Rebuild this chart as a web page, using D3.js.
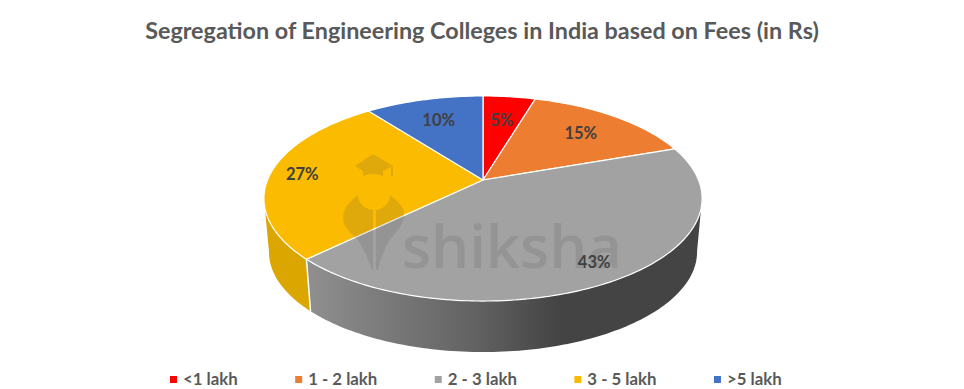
<!DOCTYPE html>
<html>
<head>
<meta charset="utf-8">
<script src="https://cdn.jsdelivr.net/npm/d3@7"></script>
<style>
  html, body { margin: 0; padding: 0; background: #fff; }
  text { font-family: Lato, "Open Sans", sans-serif; }
</style>
</head>
<body>
<svg id="chart" width="964" height="389"></svg>
<script>
// shares, the labels print them rounded
const categories = ["<1 lakh", "1 - 2 lakh", "2 - 3 lakh", "3 - 5 lakh", ">5 lakh"]
const shares = [4.6, 15, 43.1, 26.9, 10.4]
const sliceColors = ["#ff0000", "#ed7d31", "#a2a2a2", "#fbbb00", "#4472c4"]
const wallColors = [
    ["#c00000", "#c00000"],
    ["#b85f24", "#b85f24"],
    ["#909090", "#626262", "#444444", "#444444"],
    ["#dba600", "#d6a300"],
    ["#335593", "#335593"]
]
const labelRadius = [0.68, 0.72, 0.85, 0.85, 0.72]

const svg = d3.select("#chart")
const persp = 0.1805      // how much nearer the front of the disc looks
const bottomScale = 0.977 // lower rim is a little narrower
const x = d3.scaleLinear([-1, 1], [483 - 215.5, 483 + 215.5])
const yTop = d3.scaleLinear([-1, 1], [279.2, 80.8])
const yBottom = d3.scaleLinear([-1, 1], [233.8 + 99.2 * bottomScale, 233.8 - 99.2 * bottomScale])
const xBottom = d3.scaleLinear([-1, 1], [483 - 215.5 * bottomScale, 483 + 215.5 * bottomScale])

function project(angle, r, xs, ys){
    const u = r * Math.sin(angle)
    const v = r * Math.cos(angle)
    const p = 1 + persp * v
    return [xs(u / p), ys(v / p)]
}
function arcPoints(a0, a1, xs, ys){
    const n = Math.max(2, Math.ceil(Math.abs(a1 - a0) / 0.02))
    return d3.range(n + 1).map(i => project(a0 + (a1 - a0) * i / n, 1, xs, ys))
}

const title = svg.append("text")
    .attr("x", 482)
    .attr("y", 39)
    .attr("text-anchor", "middle")
    .attr("font-size", 23.35)
    .attr("font-weight", 700)
    .attr("fill", "#595959")
    .text("Segregation of Engineering Colleges in India based on Fees (in Rs)")

const pie = d3.pie().sort(null).value(d => d)
const slices = pie(shares)
const line = d3.line().curve(d3.curveLinear)
const defs = svg.append("defs")
const chart = svg.append("g").attr("id", "Pie")

// side wall, only the part of the rim that faces us
const wallFrom = 100 * Math.PI / 180
const wallTo = 260 * Math.PI / 180
slices.forEach((s, i) => {
    const a0 = Math.max(s.startAngle, wallFrom)
    const a1 = Math.min(s.endAngle, wallTo)
    if(a1 <= a0) return
    const grad = defs.append("linearGradient")
        .attr("id", "wall" + i)
        .attr("gradientUnits", "userSpaceOnUse")
        .attr("x1", 305).attr("x2", 700).attr("y1", 0).attr("y2", 0)
    const stopAt = wallColors[i].length === 4 ? [0, 0.43, 0.64, 1] : [0, 1]
    wallColors[i].forEach((c, j) => {
        grad.append("stop").attr("offset", stopAt[j]).attr("stop-color", c)
    })
    const pts = arcPoints(a0, a1, x, yTop).concat(arcPoints(a1, a0, xBottom, yBottom))
    chart.append("path")
        .attr("d", line(pts) + "Z")
        .attr("fill", "url(#wall" + i + ")")
})
// white edge where the yellow wall meets the grey one
const edgeAngle = slices[2].endAngle
chart.append("line")
    .attr("x1", project(edgeAngle, 1, x, yTop)[0])
    .attr("y1", project(edgeAngle, 1, x, yTop)[1])
    .attr("x2", project(edgeAngle, 1, xBottom, yBottom)[0])
    .attr("y2", project(edgeAngle, 1, xBottom, yBottom)[1])
    .attr("stroke", "#fff")
    .attr("stroke-width", 1.5)

// top of the disc
chart.selectAll(".slice")
    .data(slices)
    .enter()
    .append("path")
    .attr("class", "slice")
    .attr("d", d => line([project(0, 0, x, yTop)].concat(arcPoints(d.startAngle, d.endAngle, x, yTop))) + "Z")
    .attr("fill", (d, i) => sliceColors[i])
    .attr("stroke", "#fff")
    .attr("stroke-width", 1.2)
    .attr("stroke-linejoin", "round")

// watermark
const mark = svg.append("g").attr("id", "Watermark").attr("fill", "#4a4a4a").attr("opacity", 0.15)
mark.append("path").attr("d", "M373 154 L393 166 L383 171 L383 176 Q373 172 363 176 L363 171 L355 166 Z")
mark.append("path").attr("d", "M391 167 L393 167 L393 176 L391 176 Z")
mark.append("path").attr("d", "M358 195 C352 200 343 207 343 218 C343 228 352 234 358 240 C364 250 369 260 372 270 L373 270 L373 210 C364 209 358 203 358 195 Z")
mark.append("path").attr("d", "M390 195 C396 200 404 206 404 214 C404 226 394 234 389 241 C384 250 380 260 378 270 L376 270 L376 210 C384 209 390 203 390 195 Z")
mark.append("text")
    .attr("x", 402)
    .attr("y", 268)
    .attr("font-size", 60)
    .attr("font-weight", 600)
    .attr("textLength", 220)
    .style("font-family", "'Open Sans', sans-serif")
    .text("shiksha")

// data labels
chart.selectAll(".dataLabel")
    .data(slices)
    .enter()
    .append("text")
    .attr("class", "dataLabel")
    .attr("x", (d, i) => project((d.startAngle + d.endAngle) / 2, labelRadius[i], x, yTop)[0])
    .attr("y", (d, i) => project((d.startAngle + d.endAngle) / 2, labelRadius[i], x, yTop)[1] + 6)
    .attr("text-anchor", "middle")
    .attr("font-size", 16.5)
    .attr("font-weight", 700)
    .attr("fill", "#404040")
    .text(d => Math.round(d.data) + "%")

// legend, items flow by their text width
const legend = svg.append("g").attr("id", "Legend")
let legendX = 170
categories.forEach((name, i) => {
    legend.append("rect")
        .attr("x", legendX)
        .attr("y", 376)
        .attr("width", 7)
        .attr("height", 7)
        .attr("fill", sliceColors[i])
    const t = legend.append("text")
        .attr("x", legendX + 13)
        .attr("y", 385)
        .attr("font-size", 16.8)
        .attr("font-weight", 700)
        .attr("fill", "#595959")
        .text(name)
    legendX += 13 + t.node().getComputedTextLength() + 57.5
})
</script>
</body>
</html>
